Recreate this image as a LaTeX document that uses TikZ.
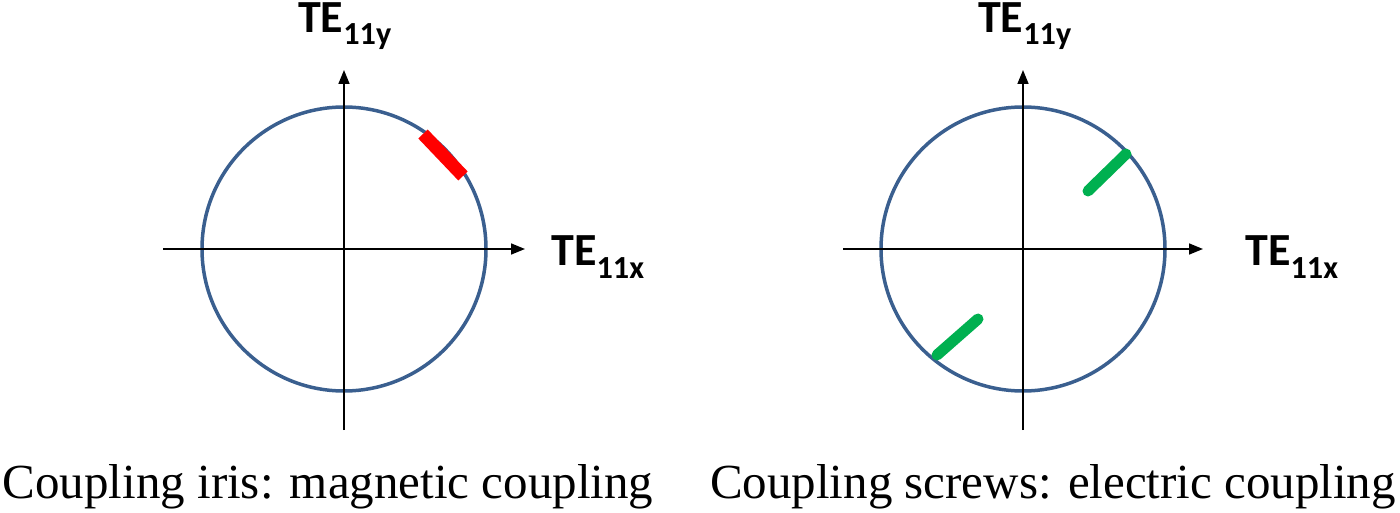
\documentclass[tikz,border=0pt]{standalone}
\usepackage{fontspec}
\setmainfont{Liberation Serif}
\newfontfamily\lblfont{Carlito}
\usetikzlibrary{arrows.meta}
\definecolor{cblue}{HTML}{3A5F8F}
\definecolor{cgreen}{HTML}{00B050}
\tikzset{
  axis/.style={line width=1.6pt,-{Triangle[length=14pt,width=11pt]}},
  ring/.style={draw=cblue,line width=3.5pt},
  bar/.style={line width=11pt,line cap=round},
  te/.style={font=\lblfont\bfseries\fontsize{46}{48}\selectfont,inner sep=0pt},
  captext/.style={font=\fontsize{49}{52}\selectfont,inner sep=0pt}
}
\begin{document}
\begin{tikzpicture}[x=1pt,y=-1pt]
\useasboundingbox (0,0) rectangle (1400,513);
% left
\coordinate (L) at (344,249);
\draw[ring] (L) circle (142);
\coordinate (Lx0) at (163,249); \coordinate (Lx1) at (525,249);
\coordinate (Ly0) at (344,430); \coordinate (Ly1) at (344,70);
\draw[axis] (Lx0) -- (Lx1);
\draw[axis] (Ly0) -- (Ly1);
\coordinate (r0) at (423,134); \coordinate (r1) at (463,176);
\draw[bar,red,line cap=butt,line width=13pt,rounded corners=2pt] (r0) -- (r1);
\node[te,anchor=north] (ly) at (345,2) {TE\textsubscript{11y}};
\node[te] (lx) at (598,257) {TE\textsubscript{11x}};
\node[captext] (lc) at (328,487) {Coupling iris: magnetic coupling};
% right
\coordinate (R) at (1023,249);
\draw[ring] (R) circle (142);
\coordinate (Rx0) at (843,249); \coordinate (Rx1) at (1203,249);
\coordinate (Ry0) at (1023,430); \coordinate (Ry1) at (1023,70);
\draw[axis] (Rx0) -- (Rx1);
\draw[axis] (Ry0) -- (Ry1);
\coordinate (g0) at (1126,154); \coordinate (g1) at (1088,191);
\coordinate (g2) at (978,319); \coordinate (g3) at (937,355);
\draw[bar,cgreen] (g0) -- (g1);
\draw[bar,cgreen] (g2) -- (g3);
\node[te,anchor=north] (ry) at (1025,2) {TE\textsubscript{11y}};
\node[te] (rx) at (1292,257) {TE\textsubscript{11x}};
\node[captext] (rc) at (1053,487) {Coupling screws: electric coupling};
\end{tikzpicture}
\end{document}
